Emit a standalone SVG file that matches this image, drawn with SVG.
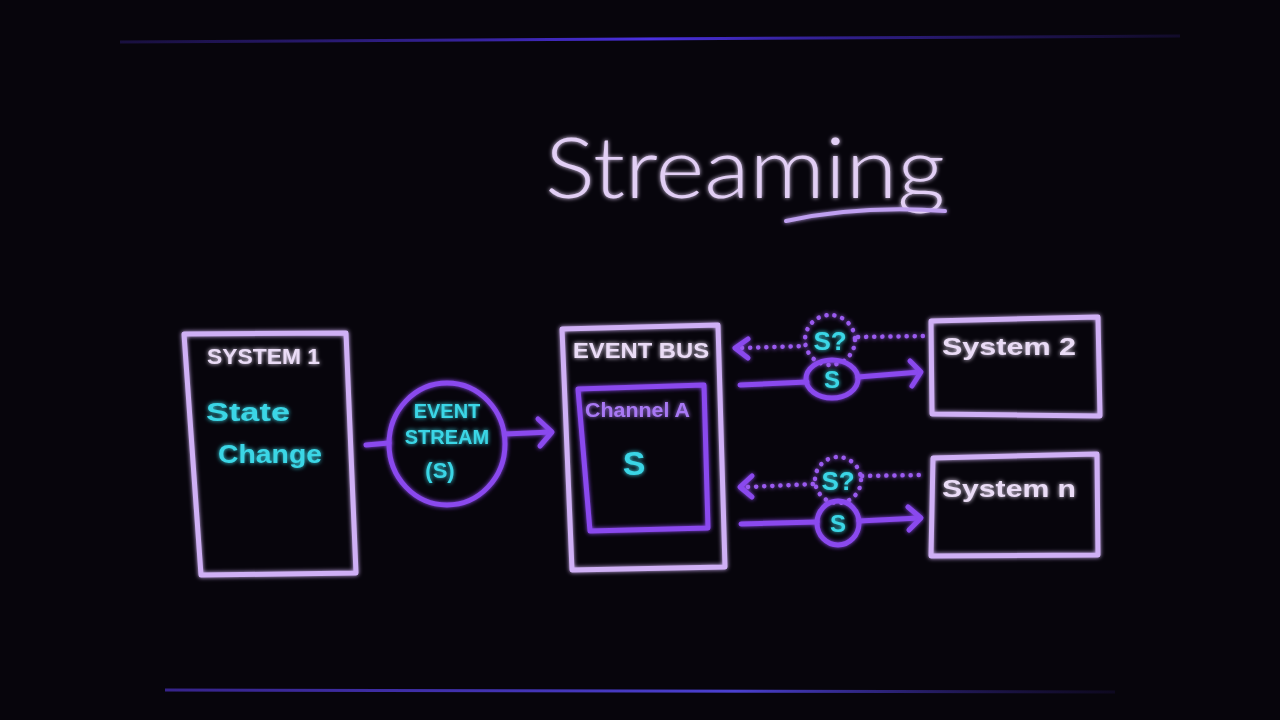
<svg xmlns="http://www.w3.org/2000/svg" width="1280" height="720" viewBox="0 0 1280 720">
<defs>
<filter id="glow" x="-20%" y="-20%" width="140%" height="140%">
<feGaussianBlur stdDeviation="2" result="b"/>
<feMerge><feMergeNode in="b"/><feMergeNode in="SourceGraphic"/></feMerge>
</filter>
<linearGradient id="topline" x1="0" x2="1" y1="0" y2="0">
<stop offset="0" stop-color="#2a1a70" stop-opacity="0.5"/>
<stop offset="0.5" stop-color="#4a30e0"/>
<stop offset="1" stop-color="#2a1a70" stop-opacity="0.3"/>
</linearGradient>
<linearGradient id="botline" x1="0" x2="1" y1="0" y2="0">
<stop offset="0" stop-color="#4a30c0" stop-opacity="0.7"/>
<stop offset="0.6" stop-color="#4a40d0"/>
<stop offset="1" stop-color="#2a1a70" stop-opacity="0.2"/>
</linearGradient>
</defs>
<style>
.lav{fill:none;stroke:#cfb0f5;stroke-width:5;stroke-linejoin:round;stroke-linecap:round}
.pur{fill:none;stroke:#8a48ee;stroke-width:5;stroke-linejoin:round;stroke-linecap:round}
.dot{fill:none;stroke:#9a5af0;stroke-width:4.5;stroke-linecap:round;stroke-dasharray:0.1 8}
.t{font-family:"Liberation Sans",Arial,sans-serif;font-weight:bold}
.white{fill:#eadcf6}
.cyan{fill:#3ad6e6}
.violet{fill:#a878f4}
</style>
<rect width="1280" height="720" fill="#07050c"/>
<line x1="120" y1="42" x2="1180" y2="36" stroke="url(#topline)" stroke-width="3"/>
<line x1="165" y1="690" x2="1115" y2="692" stroke="url(#botline)" stroke-width="3"/>

<g id="title" filter="url(#glow)">
<text x="545" y="198" font-family="Lato, 'Liberation Sans', sans-serif" font-size="84" font-weight="300" fill="#e2cff5" textLength="400" lengthAdjust="spacingAndGlyphs">Streaming</text>
<path d="M786 221 Q860 205 945 211" fill="none" stroke="#bfa0f0" stroke-width="4" stroke-linecap="round"/>
</g>

<g id="system1" filter="url(#glow)">
<path class="lav" d="M184 334 L346 333 L356 573 L201 575 Z"/>
<text class="t white" x="207" y="364" font-size="22" textLength="113" lengthAdjust="spacingAndGlyphs">SYSTEM 1</text>
<text class="t cyan" x="206" y="421" font-size="26" textLength="84" lengthAdjust="spacingAndGlyphs">State</text>
<text class="t cyan" x="218" y="463" font-size="26" textLength="104" lengthAdjust="spacingAndGlyphs">Change</text>
</g>

<g id="eventstream" filter="url(#glow)">
<ellipse class="pur" cx="447" cy="444" rx="58" ry="61"/>
<text class="t cyan" x="447" y="418" font-size="20" text-anchor="middle">EVENT</text>
<text class="t cyan" x="447" y="444" font-size="20" text-anchor="middle">STREAM</text>
<text class="t cyan" x="440" y="478" font-size="22" text-anchor="middle">(S)</text>
</g>

<g id="eventbus" filter="url(#glow)">
<path class="lav" d="M562 329 L718 325 L725 567 L572 570 Z"/>
<text class="t white" x="573" y="358" font-size="22" textLength="136" lengthAdjust="spacingAndGlyphs">EVENT BUS</text>
</g>

<g id="channelA" filter="url(#glow)">
<path class="pur" d="M578 389 L704 385 L708 528 L590 531 Z"/>
<text class="t violet" x="585" y="417" font-size="20" textLength="105" lengthAdjust="spacingAndGlyphs">Channel A</text>
<text class="t cyan" x="634" y="475" font-size="34" text-anchor="middle">S</text>
</g>

<g id="system2" filter="url(#glow)">
<path class="lav" d="M931 321 L1098 317 L1100 416 L932 414 Z"/>
<text class="t white" x="942" y="355" font-size="24" textLength="134" lengthAdjust="spacingAndGlyphs">System 2</text>
</g>

<g id="systemn" filter="url(#glow)">
<path class="lav" d="M933 458 L1097 454 L1098 555 L931 556 Z"/>
<text class="t white" x="942" y="497" font-size="24" textLength="134" lengthAdjust="spacingAndGlyphs">System n</text>
</g>

<g id="tokens" filter="url(#glow)">
<circle class="dot" cx="830" cy="340" r="25"/>
<text class="t cyan" x="830" y="350" font-size="26" text-anchor="middle">S?</text>
<ellipse class="pur" cx="832" cy="379" rx="26" ry="19"/>
<text class="t cyan" x="832" y="388" font-size="24" text-anchor="middle">S</text>
<circle class="dot" cx="838" cy="480" r="23"/>
<text class="t cyan" x="838" y="490" font-size="26" text-anchor="middle">S?</text>
<ellipse class="pur" cx="838" cy="523" rx="21" ry="22"/>
<text class="t cyan" x="838" y="532" font-size="24" text-anchor="middle">S</text>
</g>

<g id="connectors" filter="url(#glow)">
<line class="pur" x1="366" y1="445" x2="389" y2="443"/>
<line class="pur" x1="505" y1="434" x2="551" y2="432"/>
<polyline class="pur" points="538,419 552,432 540,446"/>

<line class="dot" x1="742" y1="348" x2="804" y2="346"/>
<polyline class="pur" points="748,339 735,348 748,358" stroke-width="4.5"/>
<line class="dot" x1="858" y1="337" x2="923" y2="336"/>
<line class="pur" x1="740" y1="385" x2="807" y2="382"/>
<line class="pur" x1="858" y1="377" x2="920" y2="372"/>
<polyline class="pur" points="910,361 921,372 912,386"/>

<line class="dot" x1="748" y1="487" x2="814" y2="484"/>
<polyline class="pur" points="752,476 740,487 752,497" stroke-width="4.5"/>
<line class="dot" x1="862" y1="476" x2="924" y2="475"/>
<line class="pur" x1="741" y1="524" x2="817" y2="522"/>
<line class="pur" x1="859" y1="521" x2="920" y2="518"/>
<polyline class="pur" points="908,507 921,518 909,530"/>
</g>
</svg>
